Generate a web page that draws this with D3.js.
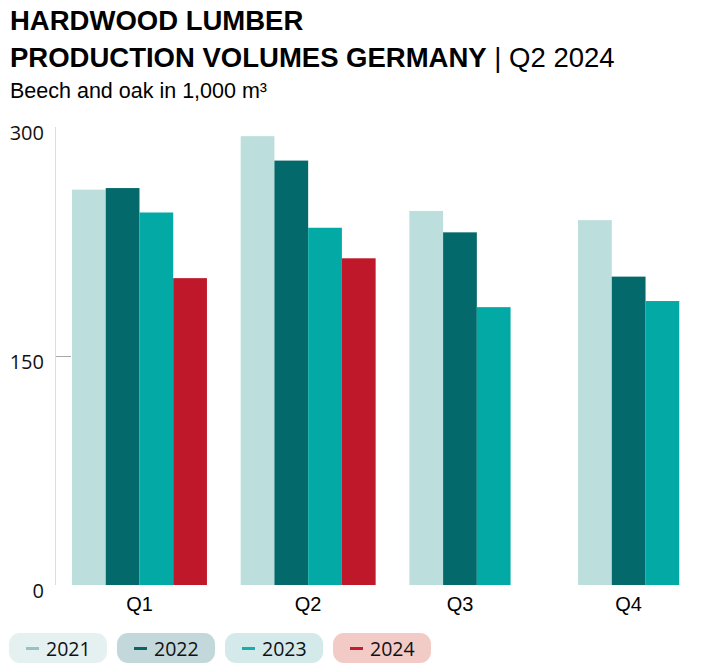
<!DOCTYPE html>
<html>
<head>
<meta charset="utf-8">
<script src="https://cdn.jsdelivr.net/npm/d3@7"></script>
<style>
  body { margin: 0; background: #fff; }
  svg { display: block; }
</style>
</head>
<body>
<script>
//chart data
var quarters = ["Q1", "Q2", "Q3", "Q4"];
var years = ["2021", "2022", "2023", "2024"];
var v2021 = [259, 294, 245, 239];
var v2022 = [260, 278, 231, 202];
var v2023 = [244, 234, 182, 186];
var v2024 = [201, 214, null, null];
var yTicks = [0, 150, 300];

var barColors = ["#bcdfdd", "#03696a", "#03a9a5", "#c0182b"];
var pillColors = ["#e5f0f1", "#c3d8da", "#d3e9ea", "#f2cbc6"];
var dashColors = ["#8fc5c5", "#0c6266", "#17afab", "#c21e30"];

//set up chart
window.onload = setChart;

function setChart(){

    var width = 703,
        height = 670;

    var svg = d3.select("body")
        .append("svg")
        .attr("width", width)
        .attr("height", height);

    //title block
    var title = svg.append("g")
        .attr("font-family", "'Liberation Sans', Arial, sans-serif")
        .attr("fill", "#000");

    title.append("text")
        .attr("x", 10)
        .attr("y", 30)
        .attr("font-size", 27.5)
        .attr("font-weight", "bold")
        .text("HARDWOOD LUMBER");

    var line2 = title.append("text")
        .attr("x", 10)
        .attr("y", 67)
        .attr("font-size", 27.5);
    line2.append("tspan")
        .attr("font-weight", "bold")
        .text("PRODUCTION VOLUMES GERMANY");
    line2.append("tspan")
        .text(" | Q2 2024");

    title.append("text")
        .attr("x", 10)
        .attr("y", 98)
        .attr("font-size", 21.5)
        .text("Beech and oak in 1,000 m³");

    //scales
    var y = d3.scaleLinear()
        .domain([0, 300])
        .range([585, 127]);

    var x = d3.scaleBand()
        .domain(quarters)
        .range([72, 713])
        .paddingInner(0.2)
        .paddingOuter(0);

    var xYear = d3.scaleBand()
        .domain(years)
        .range([0, x.bandwidth()]);

    //y axis line, only the middle tick is drawn
    var axisX = 55;
    var yAxis = d3.axisRight(y)
        .tickValues([150])
        .tickSize(16)
        .tickFormat("");

    var yG = svg.append("g")
        .attr("transform", "translate(" + axisX + ",0)")
        .call(yAxis);
    yG.select(".domain").remove();
    yG.selectAll(".tick line")
        .attr("stroke", "#a8a8a8");

    svg.append("line")
        .attr("x1", axisX + 0.5)
        .attr("x2", axisX + 0.5)
        .attr("y1", y(300))
        .attr("y2", y(0))
        .attr("stroke", "#dcdcdc");

    svg.append("g")
        .selectAll("text")
        .data(yTicks)
        .enter()
        .append("text")
        .attr("x", 44)
        .attr("y", function(d){ return y(d) + 13; })
        .attr("text-anchor", "end")
        .attr("font-family", "'Open Sans', sans-serif")
        .attr("font-size", 20)
        .attr("fill", "#111")
        .text(function(d){ return d; });

    //bars
    var series = [v2021, v2022, v2023, v2024];
    var rows = [];
    quarters.forEach(function(q, qi){
        years.forEach(function(yr, yi){
            var val = series[yi][qi];
            if (val != null) rows.push({q: q, year: yr, yi: yi, value: val});
        });
    });

    svg.append("g")
        .selectAll("rect")
        .data(rows)
        .enter()
        .append("rect")
        .attr("x", function(d){ return x(d.q) + xYear(d.year); })
        .attr("y", function(d){ return y(d.value); })
        .attr("width", xYear.bandwidth())
        .attr("height", function(d){ return y(0) - y(d.value); })
        .attr("fill", function(d){ return barColors[d.yi]; });

    //quarter labels, centred under the bars that exist
    svg.append("g")
        .selectAll("text")
        .data(quarters)
        .enter()
        .append("text")
        .attr("x", function(q, qi){
            var n = series.filter(function(s){ return s[qi] != null; }).length;
            return x(q) + n * xYear.bandwidth() / 2;
        })
        .attr("y", 611)
        .attr("text-anchor", "middle")
        .attr("font-family", "'Liberation Sans', Arial, sans-serif")
        .attr("font-size", 20)
        .attr("fill", "#000")
        .text(function(q){ return q; });

    //legend pills
    var legend = svg.append("g")
        .selectAll("g")
        .data(years)
        .enter()
        .append("g")
        .attr("transform", function(d, i){
            return "translate(" + (9 + i * 108) + ",633)";
        });

    legend.append("rect")
        .attr("width", 98)
        .attr("height", 30)
        .attr("rx", 11)
        .attr("fill", function(d, i){ return pillColors[i]; });

    legend.append("rect")
        .attr("x", 17)
        .attr("y", 14)
        .attr("width", 13)
        .attr("height", 3)
        .attr("fill", function(d, i){ return dashColors[i]; });

    legend.append("text")
        .attr("x", 37)
        .attr("y", 23)
        .attr("font-family", "'Open Sans', sans-serif")
        .attr("font-size", 19.5)
        .attr("fill", "#111")
        .text(function(d){ return d; });
}
</script>
</body>
</html>
